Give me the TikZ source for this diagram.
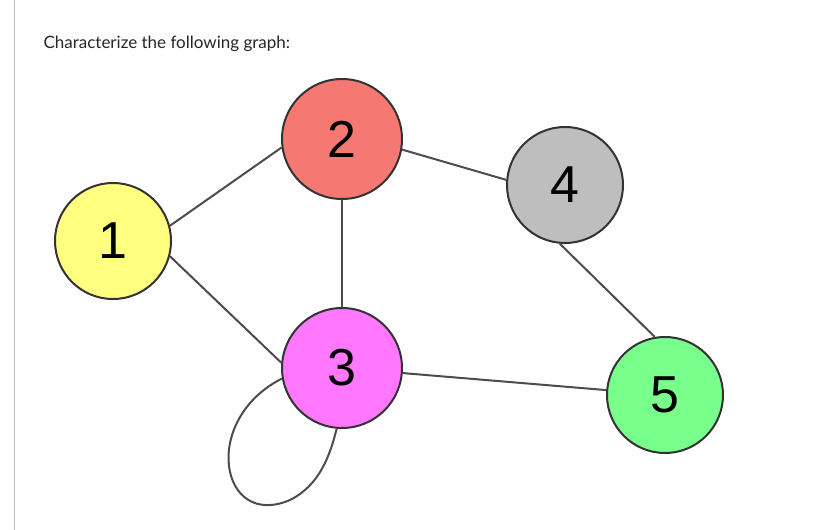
\documentclass[tikz,border=0pt]{standalone}
\usepackage{fontspec}
\setmainfont{Lato}
\newfontfamily\numfont{Liberation Sans}
\begin{document}
\begin{tikzpicture}[x=1pt,y=-1pt,
  vert/.style={circle,draw=black!80,line width=2pt,minimum size=116pt,inner sep=0pt,font=\numfont\fontsize{52}{52}\selectfont},
  edge/.style={draw=black!70,line width=2pt}]
\useasboundingbox (0,0) rectangle (814,530);
\draw[black!25,line width=1pt] (14,0) -- (14,530);
\node[anchor=west,font=\fontsize{17}{20}\selectfont,text=black!85] (t) at (40,44) {Characterize the following graph:};
\node[vert,fill={rgb,255:red,255;green,255;blue,128}] (n1) at (113,241) {1};
\node[vert,fill={rgb,255:red,245;green,120;blue,115},minimum size=120pt] (n2) at (342,139) {2};
\node[vert,fill={rgb,255:red,190;green,190;blue,190}] (n4) at (565,185) {4};
\node[vert,fill={rgb,255:red,255;green,120;blue,255},minimum size=120pt] (n3) at (342,368) {3};
\node[vert,fill={rgb,255:red,120;green,255;blue,140}] (n5) at (665,395) {5};
\draw[edge] (n1.15) -- (n2.188);
\draw[edge] (n1.-15) -- (n3.175);
\draw[edge] (n2) -- (n3);
\draw[edge] (n2.-10) -- (n4.175);
\draw[edge] (n4.-95) -- (n5.100);
\draw[edge] (n3) -- (n5);
\draw[edge] (n3.190) .. controls (200,420) and (220,530) .. (290,500) .. controls (320,485) and (330,455) .. (n3.265);
\end{tikzpicture}
\end{document}
